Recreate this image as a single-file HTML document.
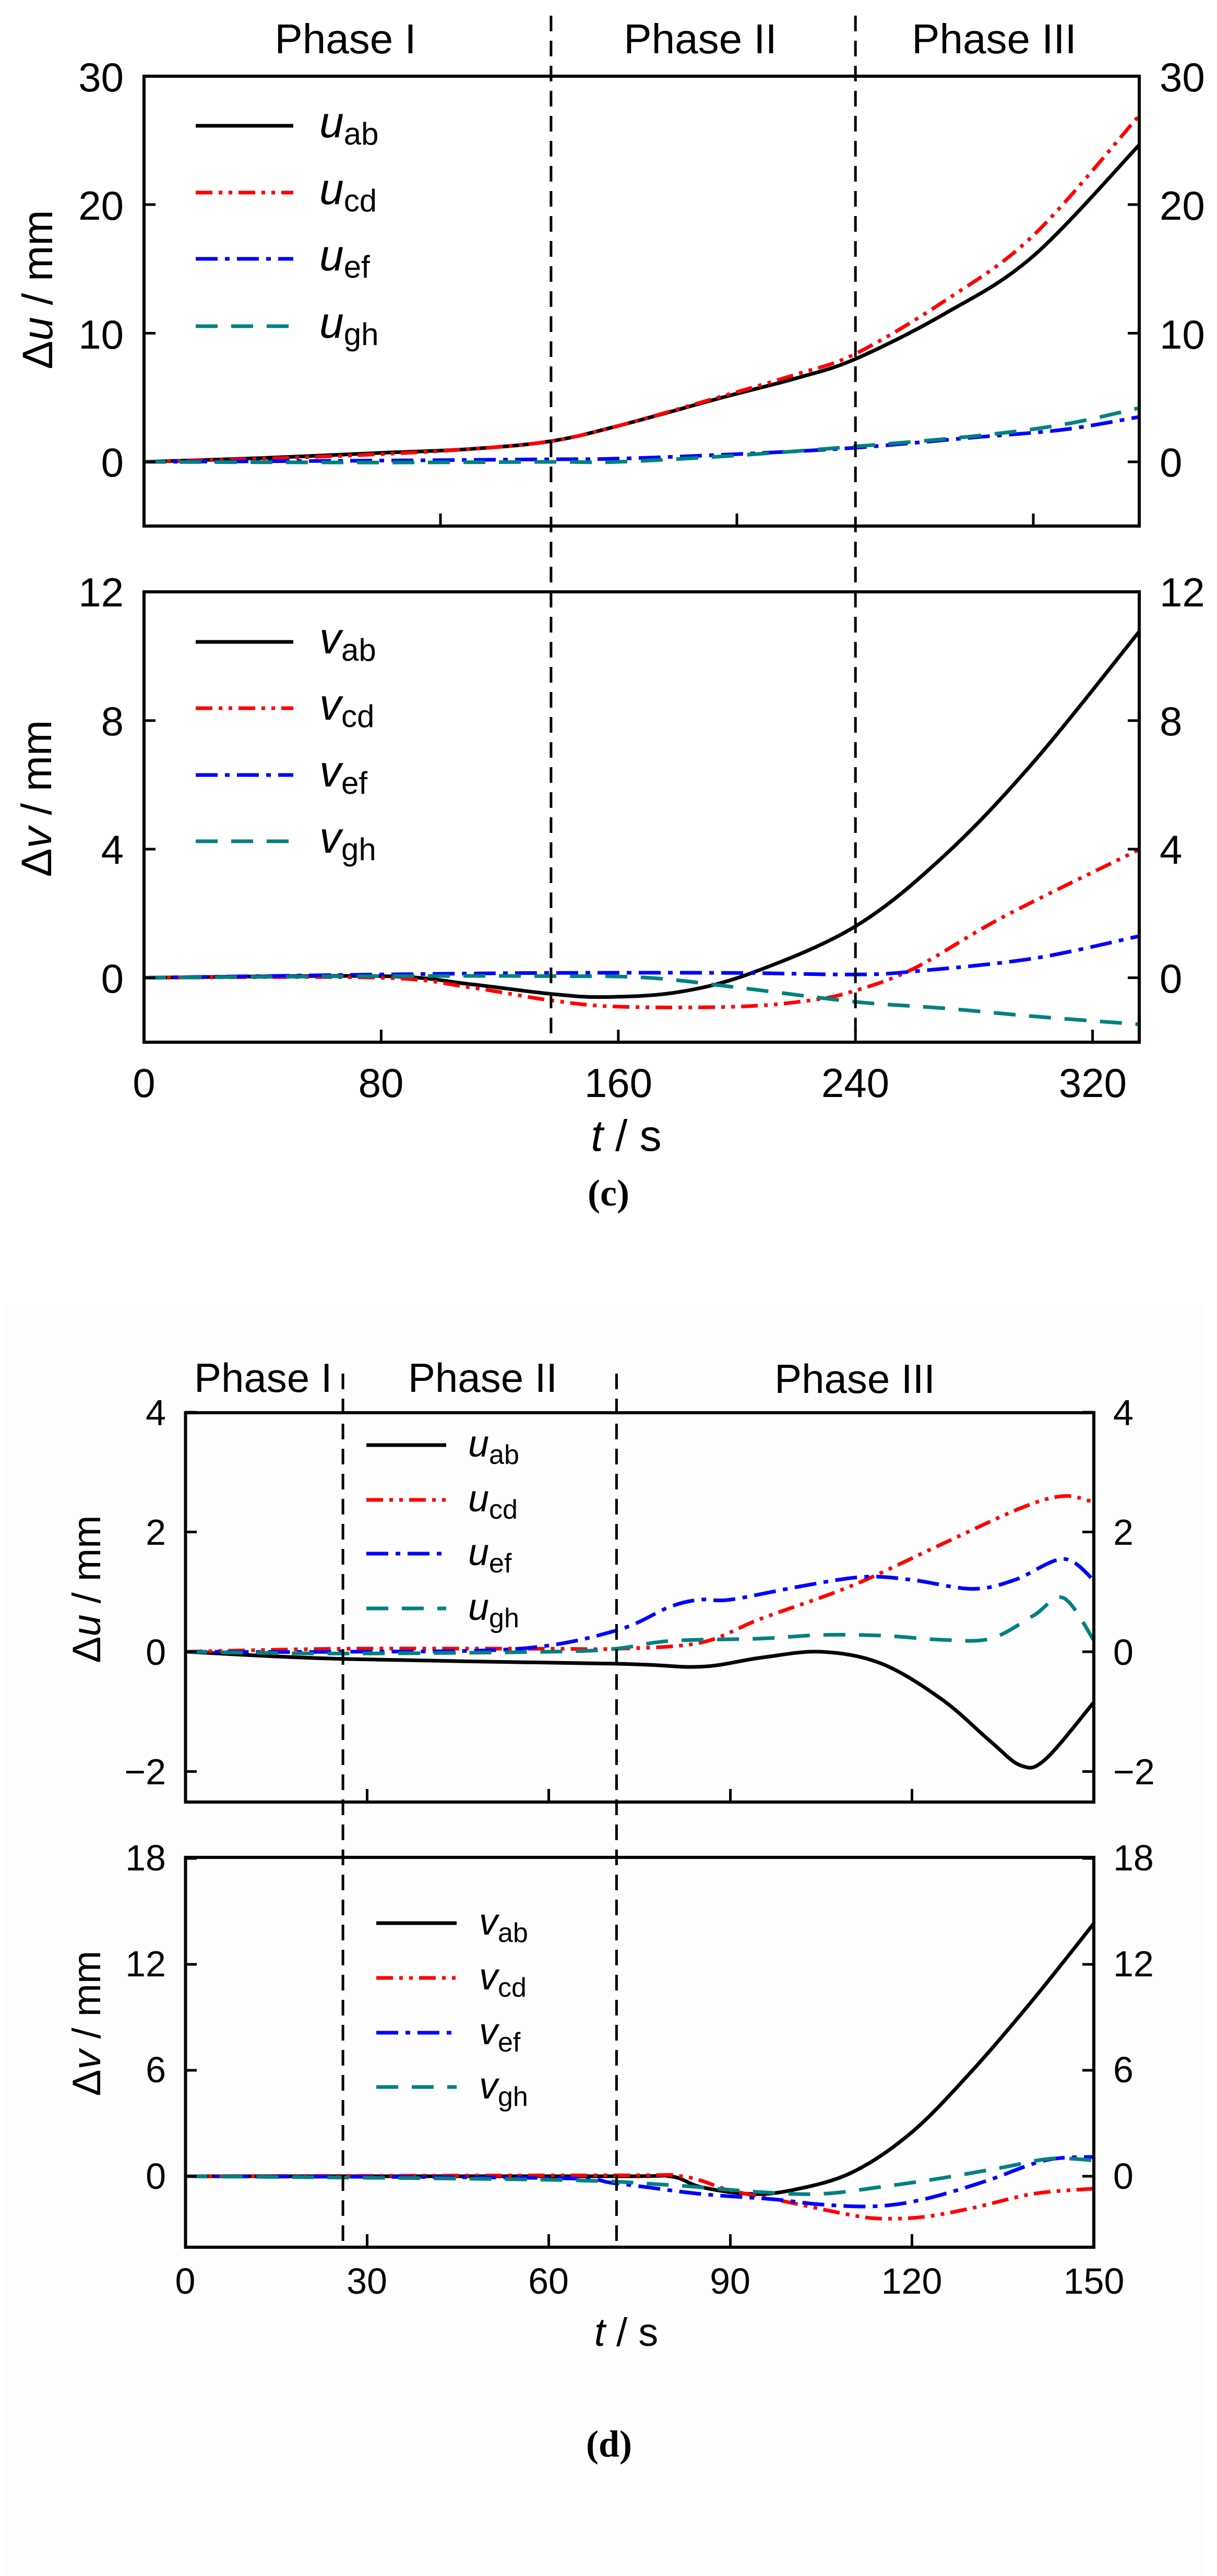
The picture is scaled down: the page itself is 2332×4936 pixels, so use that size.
<!DOCTYPE html>
<html><head><meta charset="utf-8"><style>
html,body{margin:0;padding:0;background:#fff;}
svg{display:block;}
text{font-family:"Liberation Sans",sans-serif;fill:#000;}
</style></head><body>
<svg id="s" width="2332" height="4936" viewBox="0 0 2332 4936" xmlns="http://www.w3.org/2000/svg">
<rect x="0" y="0" width="2332" height="4936" fill="#fff"/>
<rect x="5" y="2500" width="2300" height="2436" fill="#fdfdfd"/>

<!-- ===== (c) ===== -->
<g font-size="80">
<text x="662" y="102" text-anchor="middle">Phase I</text>
<text x="1342" y="102" text-anchor="middle">Phase II</text>
<text x="1905" y="102" text-anchor="middle">Phase III</text>
</g>
<g font-size="78">
<g text-anchor="end">
<text x="237" y="175">30</text><text x="237" y="421">20</text><text x="237" y="668">10</text><text x="237" y="913">0</text>
<text x="237" y="1162">12</text><text x="237" y="1409">8</text><text x="237" y="1655">4</text><text x="237" y="1902">0</text>
</g>
<g text-anchor="start">
<text x="2222" y="175">30</text><text x="2222" y="421">20</text><text x="2222" y="668">10</text><text x="2222" y="913">0</text>
<text x="2222" y="1162">12</text><text x="2222" y="1409">8</text><text x="2222" y="1655">4</text><text x="2222" y="1902">0</text>
</g>
<g text-anchor="middle">
<text x="276" y="2102">0</text><text x="730" y="2102">80</text><text x="1185" y="2102">160</text><text x="1639" y="2102">240</text><text x="2094" y="2102">320</text>
</g>
<text x="1200" y="2205" text-anchor="middle" font-size="84"><tspan font-style="italic">t</tspan>  / s</text>
<text transform="translate(100,555) rotate(-90)" text-anchor="middle" font-size="82">Δ<tspan font-style="italic">u</tspan> / mm</text>
<text transform="translate(98,1530) rotate(-90)" text-anchor="middle" font-size="82">Δ<tspan font-style="italic">v</tspan> / mm</text>
</g>
<text x="1166" y="2310" text-anchor="middle" font-size="72" font-weight="bold" style="font-family:'Liberation Serif',serif">(c)</text>

<!-- ===== (d) ===== -->
<g font-size="78">
<text x="372" y="2667">Phase I</text>
<text x="925" y="2667" text-anchor="middle">Phase II</text>
<text x="1638" y="2669" text-anchor="middle">Phase III</text>
</g>
<g font-size="70">
<g text-anchor="end">
<text x="318" y="2731">4</text><text x="318" y="2960">2</text><text x="318" y="3190">0</text><text x="318" y="3419">−2</text>
<text x="318" y="3584">18</text><text x="318" y="3787">12</text><text x="318" y="3990">6</text><text x="318" y="4194">0</text>
</g>
<g text-anchor="start">
<text x="2133" y="2731">4</text><text x="2133" y="2960">2</text><text x="2133" y="3190">0</text><text x="2133" y="3419">−2</text>
<text x="2133" y="3584">18</text><text x="2133" y="3787">12</text><text x="2133" y="3990">6</text><text x="2133" y="4194">0</text>
</g>
<g text-anchor="middle">
<text x="355" y="4395">0</text><text x="703" y="4395">30</text><text x="1051" y="4395">60</text><text x="1399" y="4395">90</text><text x="1747" y="4395">120</text><text x="2096" y="4395">150</text>
</g>
<text x="1200" y="4495" text-anchor="middle" font-size="76"><tspan font-style="italic">t</tspan>  / s</text>
<text transform="translate(192,3045) rotate(-90)" text-anchor="middle" font-size="76">Δ<tspan font-style="italic">u</tspan> / mm</text>
<text transform="translate(192,3877) rotate(-90)" text-anchor="middle" font-size="76">Δ<tspan font-style="italic">v</tspan> / mm</text>
</g>
<text x="1167" y="4707" text-anchor="middle" font-size="72" font-weight="bold" style="font-family:'Liberation Serif',serif">(d)</text>

<g id="dyn"></g>
</svg>
<script>
var NS="http://www.w3.org/2000/svg",G=document.getElementById("dyn");
function el(t,a,txt){var e=document.createElementNS(NS,t);for(var k in a)e.setAttribute(k,a[k]);if(txt!==undefined)e.textContent=txt;G.appendChild(e);return e;}
var ST={
 ab:{c:"#000",d:""},
 cd:{c:"#f00",d:"32,12,7,12,7,12"},
 ef:{c:"#00f",d:"42,14,9,14"},
 gh:{c:"#008080",d:"42,26"}
};
function path(pts,X,Y){
 var P=pts.map(function(p){return [X(p[0]),Y(p[1])];});
 var s="M"+P[0][0].toFixed(1)+","+P[0][1].toFixed(1);
 for(var i=0;i<P.length-1;i++){
  var p0=P[Math.max(0,i-1)],p1=P[i],p2=P[i+1],p3=P[Math.min(P.length-1,i+2)];
  var c1=[p1[0]+(p2[0]-p0[0])/6,p1[1]+(p2[1]-p0[1])/6],c2=[p2[0]-(p3[0]-p1[0])/6,p2[1]-(p3[1]-p1[1])/6];
  s+="C"+c1[0].toFixed(1)+","+c1[1].toFixed(1)+" "+c2[0].toFixed(1)+","+c2[1].toFixed(1)+" "+p2[0].toFixed(1)+","+p2[1].toFixed(1);
 }
 return s;
}
function series(pts,key,X,Y,clip,w){
 el("path",{d:path(pts,X,Y),fill:"none",stroke:ST[key].c,"stroke-width":w,"stroke-dasharray":ST[key].d,"clip-path":"url(#"+clip+")"});
}
function legend(x1,x2,tx,ys,letter,fs,w){
 ["ab","cd","ef","gh"].forEach(function(k,i){
  el("line",{x1:x1,x2:x2,y1:ys[i],y2:ys[i],stroke:ST[k].c,"stroke-width":w,"stroke-dasharray":ST[k].d});
  var t=el("text",{x:tx,y:ys[i]+22,"font-size":fs});
  var a=document.createElementNS(NS,"tspan");a.setAttribute("font-style","italic");a.textContent=letter;t.appendChild(a);
  var b=document.createElementNS(NS,"tspan");b.setAttribute("font-size",Math.round(fs*0.72));b.setAttribute("dy","14");b.textContent=k;t.appendChild(b);
 });
}
function frame(x0,y0,x1,y1,w){el("rect",{x:x0,y:y0,width:x1-x0,height:y1-y0,fill:"none",stroke:"#000","stroke-width":w});}
function tick(x1,y1,x2,y2){el("line",{x1:x1,y1:y1,x2:x2,y2:y2,stroke:"#000","stroke-width":5});}
var defs=el("defs",{});
function clip(id,x0,y0,x1,y1){var c=document.createElementNS(NS,"clipPath");c.setAttribute("id",id);var r=document.createElementNS(NS,"rect");r.setAttribute("x",x0);r.setAttribute("y",y0);r.setAttribute("width",x1-x0);r.setAttribute("height",y1-y0);c.appendChild(r);defs.appendChild(c);}
var LW=7;
/* ---- (c) ---- */
var cX=function(t){return 276+t*5.68;},cU=function(v){return 885-v*24.65;},cV=function(v){return 1873.5-v*61.6;};
clip("c1",276,146,2183,1008);clip("c2",276,1134,2183,1997);
series([[0,0],[40,0.3],[80,0.7],[110,1],[137,1.6],[160,2.8],[195,5],[220,6.5],[240,8],[270,11.5],[300,16],[336,24.7]],"ab",cX,cU,"c1",LW);
series([[0,0],[40,0.25],[80,0.6],[110,1],[137,1.6],[160,2.8],[195,5.1],[220,6.8],[240,8.4],[270,12.5],[300,17.6],[336,27]],"cd",cX,cU,"c1",LW);
series([[0,0],[80,0.1],[137,0.2],[160,0.25],[200,0.6],[240,1.1],[280,1.9],[310,2.5],[336,3.5]],"ef",cX,cU,"c1",LW);
series([[0,0],[80,-0.05],[137,0],[160,0],[200,0.5],[240,1.2],[280,2],[310,2.9],[336,4.2]],"gh",cX,cU,"c1",LW);
series([[0,0],[80,0.05],[110,-0.2],[137,-0.5],[155,-0.6],[180,-0.45],[205,0.15],[240,1.6],[270,3.8],[300,6.7],[336,10.8]],"ab",cX,cV,"c2",LW);
series([[0,0],[80,0],[110,-0.3],[137,-0.7],[160,-0.9],[200,-0.9],[225,-0.7],[240,-0.4],[260,0.3],[290,1.9],[336,4.0]],"cd",cX,cV,"c2",LW);
series([[0,0],[80,0.1],[137,0.15],[200,0.15],[240,0.1],[260,0.2],[300,0.6],[336,1.3]],"ef",cX,cV,"c2",LW);
series([[0,0],[80,0.05],[137,0.05],[170,0],[200,-0.3],[240,-0.75],[270,-0.95],[300,-1.2],[336,-1.45]],"gh",cX,cV,"c2",LW);
frame(276,146,2183,1008,6);frame(276,1134,2183,1997,6);
[30,20,10,0].forEach(function(v){tick(276,cU(v),298,cU(v));tick(2161,cU(v),2183,cU(v));});
[12,8,4,0].forEach(function(v){tick(276,cV(v),298,cV(v));tick(2161,cV(v),2183,cV(v));});
[100,200,300].forEach(function(t){tick(cX(t),1008,cX(t),984);});
[80,160,240,320].forEach(function(t){tick(cX(t),1997,cX(t),1973);});
[137.3,240].forEach(function(t){el("line",{x1:cX(t),x2:cX(t),y1:30,y2:1997,stroke:"#000","stroke-width":5,"stroke-dasharray":"30,18"});});
legend(375,562,612,[241,369,496,625],"u",84,LW);
legend(375,562,612,[1230,1357,1485,1612],"v",84,LW);

/* ---- (d) ---- */
var dX=function(t){return 355.5+t*11.6;},dU=function(v){return 3165-v*114.75;},dV=function(v){return 4170-v*33.83;};
clip("d1",355,2707,2096,3453);clip("d2",355,3559,2096,4306);
series([[0,0],[26,-0.12],[71,-0.2],[85,-0.25],[95,-0.1],[105,0],[115,-0.2],[125,-0.8],[133,-1.5],[138,-1.9],[142,-1.8],[150,-0.85]],"ab",dX,dU,"d1",LW);
series([[0,0],[26,0.05],[60,0.05],[71,0.05],[85,0.15],[95,0.55],[110,1.1],[125,1.8],[138,2.4],[145,2.6],[150,2.5]],"cd",dX,dU,"d1",LW);
series([[0,0],[26,0],[55,0.05],[71,0.35],[80,0.75],[85,0.87],[90,0.87],[102,1.1],[112,1.25],[120,1.2],[130,1.05],[137,1.2],[145,1.55],[150,1.2]],"ef",dX,dU,"d1",LW);
series([[0,0],[26,-0.03],[60,0],[71,0.05],[80,0.18],[95,0.22],[105,0.28],[115,0.27],[125,0.2],[133,0.22],[140,0.6],[145,0.9],[150,0.2]],"gh",dX,dU,"d1",LW);
series([[0,0],[70,0],[80,0],[85,-0.6],[93,-1],[100,-0.8],[110,0.2],[120,2.5],[130,6],[140,10],[150,14.3]],"ab",dX,dV,"d2",LW);
series([[0,0],[70,0.05],[82,0],[90,-0.8],[100,-1.5],[110,-2.2],[115,-2.4],[122,-2.3],[130,-1.8],[140,-1],[150,-0.7]],"cd",dX,dV,"d2",LW);
series([[0,0],[60,-0.1],[71,-0.4],[85,-1],[97,-1.3],[105,-1.6],[114,-1.7],[122,-1.3],[132,-0.3],[142,0.9],[150,1.1]],"ef",dX,dV,"d2",LW);
series([[0,0],[60,-0.2],[80,-0.5],[95,-0.9],[105,-1],[115,-0.6],[125,-0.1],[135,0.5],[143,1.0],[150,0.9]],"gh",dX,dV,"d2",LW);
frame(355.5,2707,2096,3453,6);frame(355.5,3559,2096,4306,6);
[4,2,0,-2].forEach(function(v){tick(355,dU(v),377,dU(v));tick(2074,dU(v),2096,dU(v));});
[18,12,6,0].forEach(function(v){tick(355,dV(v),377,dV(v));tick(2074,dV(v),2096,dV(v));});
[30,60,90,120].forEach(function(t){tick(dX(t),3453,dX(t),3428);tick(dX(t),4306,dX(t),4281);});
[26,71.2].forEach(function(t){el("line",{x1:dX(t),x2:dX(t),y1:2632,y2:4306,stroke:"#000","stroke-width":5,"stroke-dasharray":"30,18"});});
legend(702,855,897,[2769,2874,2977,3082],"u",72,LW);
legend(721,875,918,[3685,3790,3895,3999],"v",72,LW);
</script>
</body></html>
